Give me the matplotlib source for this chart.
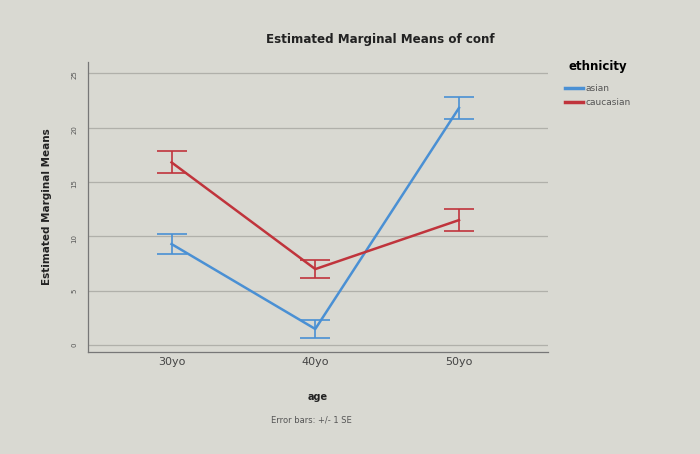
import matplotlib
matplotlib.use("Agg")
import matplotlib.pyplot as plt
from matplotlib.lines import Line2D
import numpy as np

ages = ["30yo", "40yo", "50yo"]
asian_means = [9.3, 1.5, 21.8]
asian_se = [0.9, 0.8, 1.0]
caucasian_means = [16.8, 7.0, 11.5]
caucasian_se = [1.0, 0.8, 1.0]
yticks = [0, 5, 10, 15, 20, 25]

bg = "#d9d9d2"
blue = "#4a90d4"
red = "#c0343c"

fig = plt.figure(figsize=(7, 4.54), dpi=100, facecolor=bg)
ax = fig.add_axes([0.126, 0.225, 0.657, 0.638], facecolor=bg)
x = np.arange(len(ages))

ax.errorbar(x, asian_means, yerr=asian_se, color=blue, lw=1.8, capsize=11,
            capthick=1.2, elinewidth=1.2, zorder=3)
ax.errorbar(x, caucasian_means, yerr=caucasian_se, color=red, lw=1.8, capsize=11,
            capthick=1.2, elinewidth=1.2, zorder=3)

ax.set_xlim(-0.58, 2.62)
ax.set_ylim(-0.6, 26)
ax.set_yticks(yticks)
ax.set_xticks(x)
ax.set_xticklabels(ages, fontsize=8, color="#444444")
ax.tick_params(axis="y", labelsize=5, colors="#555555", length=0, pad=8)
ax.tick_params(axis="x", length=0, pad=4)
for t in ax.get_yticklabels():
    t.set_rotation(90)
ax.grid(axis="y", color="#b0b0aa", lw=0.9)
ax.set_axisbelow(True)
for s in ["top", "right"]:
    ax.spines[s].set_visible(False)
for s in ["left", "bottom"]:
    ax.spines[s].set_color("#777777")
    ax.spines[s].set_linewidth(0.9)

ax.set_ylabel("Estimated Marginal Means", fontsize=7.5, fontweight="bold",
              color="#222222", labelpad=14)
ax.set_xlabel("age", fontsize=7, fontweight="bold", color="#222222", labelpad=18)
fig.text(0.543, 0.905, "Estimated Marginal Means of conf", fontsize=8.6,
         fontweight="bold", ha="center", color="#222222")
fig.text(0.445, 0.07, "Error bars: +/- 1 SE", fontsize=6, ha="center",
         color="#555555")

handles = [Line2D([], [], color=blue, lw=2.5), Line2D([], [], color=red, lw=2.5)]
labels = ["asian", "caucasian"]
leg = fig.legend(handles, labels, title="ethnicity", loc="upper left",
                 bbox_to_anchor=(0.802, 0.875), frameon=False, fontsize=6.5,
                 title_fontsize=8.5, handlelength=2.0, handletextpad=0.3,
                 labelspacing=0.5, borderaxespad=0)
leg.get_title().set_fontweight("bold")
leg._legend_box.sep = 8
for t in leg.get_texts():
    t.set_color("#555555")

fig.savefig("out.png", dpi=100, facecolor=bg)
